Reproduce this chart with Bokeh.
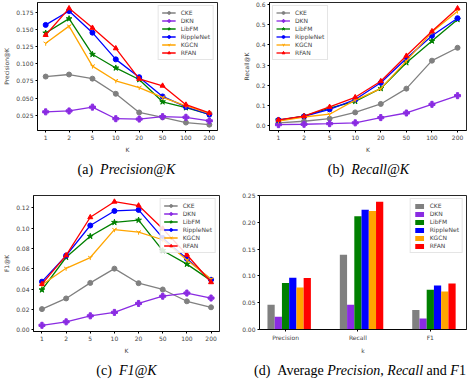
from bokeh.plotting import figure
from bokeh.models import Range1d, FixedTicker, NumeralTickFormatter, Div
from bokeh.layouts import column, row
from bokeh.embed import file_html
from bokeh.resources import INLINE

# ---------------- data ----------------
k_labels = ["1", "2", "5", "10", "20", "50", "100", "200"]
models = ["CKE", "DKN", "LibFM", "RippleNet", "KGCN", "RFAN"]
colors = ["gray", "blueviolet", "green", "blue", "orange", "red"]
markers = ["circle", "plus", "star", "circle", "y", "triangle"]

prec_cke = [0.0814, 0.0844, 0.0784, 0.0563, 0.0290, 0.0220, 0.0143, 0.0112]
prec_dkn = [0.0299, 0.0312, 0.0368, 0.0199, 0.0194, 0.0229, 0.0220, 0.0168]
prec_libfm = [0.1450, 0.1659, 0.1139, 0.0940, 0.0771, 0.0446, 0.0360, 0.0264]
prec_ripple = [0.1568, 0.1770, 0.1455, 0.1065, 0.0805, 0.0524, 0.0372, 0.0264]
prec_kgcn = [0.1300, 0.1550, 0.0966, 0.0753, 0.0654, 0.0510, 0.0385, 0.0277]
prec_rfan = [0.1420, 0.1810, 0.1525, 0.1226, 0.0780, 0.0680, 0.0403, 0.0284]

rec_cke = [0.013, 0.021, 0.034, 0.065, 0.107, 0.183, 0.322, 0.386]
rec_dkn = [0.004, 0.006, 0.009, 0.013, 0.039, 0.062, 0.105, 0.148]
rec_libfm = [0.027, 0.046, 0.086, 0.120, 0.184, 0.312, 0.420, 0.527]
rec_ripple = [0.027, 0.045, 0.080, 0.129, 0.212, 0.333, 0.446, 0.533]
rec_kgcn = [0.022, 0.042, 0.056, 0.126, 0.183, 0.321, 0.464, 0.568]
rec_rfan = [0.028, 0.046, 0.092, 0.140, 0.220, 0.346, 0.468, 0.582]

f1_cke = [0.0203, 0.0308, 0.0461, 0.0601, 0.0458, 0.0396, 0.0280, 0.0221]
f1_dkn = [0.0044, 0.0078, 0.0137, 0.0171, 0.0259, 0.0330, 0.0361, 0.0312]
f1_libfm = [0.0393, 0.0713, 0.0919, 0.1056, 0.1078, 0.0779, 0.0645, 0.0483]
f1_ripple = [0.0473, 0.0729, 0.1025, 0.1168, 0.1178, 0.0903, 0.0698, 0.0492]
f1_kgcn = [0.0442, 0.0604, 0.0710, 0.0984, 0.0959, 0.0885, 0.0685, 0.0498]
f1_rfan = [0.0449, 0.0732, 0.1106, 0.1259, 0.1221, 0.0994, 0.0738, 0.0467]

avg_groups = ["Precision", "Recall", "F1"]
avg_cke = [0.0463, 0.1394, 0.0363]
avg_dkn = [0.0240, 0.0463, 0.0205]
avg_libfm = [0.0867, 0.2114, 0.0744]
avg_ripple = [0.0966, 0.2237, 0.0820]
avg_kgcn = [0.0785, 0.2213, 0.0708]
avg_rfan = [0.0960, 0.2383, 0.0861]

prec_ticks = [0.025, 0.050, 0.075, 0.100, 0.125, 0.150, 0.175]
rec_ticks = [0.0, 0.1, 0.2, 0.3, 0.4, 0.5, 0.6]
f1_ticks = [0.00, 0.02, 0.04, 0.06, 0.08, 0.10, 0.12]
avg_ticks = [0.00, 0.05, 0.10, 0.15, 0.20, 0.25]

TICK_FONT = "DejaVu Sans"
CELL_W = 229


def style_axes(p):
    p.xgrid.visible = False
    p.ygrid.visible = False
    p.outline_line_color = "black"
    p.outline_line_alpha = 0.85
    for ax in (p.xaxis, p.yaxis):
        ax.axis_line_color = "black"
        ax.axis_line_alpha = 0.85
        ax.major_tick_line_color = "black"
        ax.major_tick_out = 2
        ax.major_tick_in = 0
        ax.minor_tick_out = 0
        ax.minor_tick_in = 0
        ax.major_label_text_font = TICK_FONT
        ax.major_label_text_font_size = "6px"
        ax.major_label_standoff = 2
        ax.axis_label_text_font = TICK_FONT
        ax.axis_label_text_font_size = "6px"
        ax.axis_label_text_font_style = "normal"
        ax.axis_label_standoff = 3


def style_legend(p, loc, gw=14, gh=7):
    lg = p.legend[0]
    lg.location = loc
    lg.label_text_font = TICK_FONT
    lg.label_text_font_size = "6px"
    lg.label_height = 7
    lg.glyph_height = gh
    lg.glyph_width = gw
    lg.spacing = 1
    lg.padding = 3
    lg.margin = 3
    lg.label_standoff = 5
    lg.border_line_color = "#cccccc"
    lg.background_fill_alpha = 0.85


def line_fig(series, yr, ticks, fmt, ylabel, loc, h, top, left, right):
    p = figure(width=CELL_W, height=h, x_range=Range1d(-0.35, 7.35),
               y_range=Range1d(*yr), output_backend="svg",
               toolbar_location=None, min_border_top=top,
               min_border_left=left, min_border_right=right,
               min_border_bottom=4)
    xs = list(range(len(k_labels)))
    for name, vals, c, m in zip(models, series, colors, markers):
        p.line(xs, vals, line_color=c, line_width=1.3, legend_label=name)
        sz = 6 if m in ("plus", "star") else 5
        p.scatter(xs, vals, marker=m, size=sz, fill_color=c, line_color=c,
                  legend_label=name)
    style_axes(p)
    p.xaxis.ticker = FixedTicker(ticks=xs)
    p.xaxis.major_label_overrides = {i: lab for i, lab in enumerate(k_labels)}
    p.xaxis.axis_label = "K"
    p.yaxis.ticker = FixedTicker(ticks=ticks)
    p.yaxis.formatter = NumeralTickFormatter(format=fmt)
    p.yaxis.axis_label = ylabel
    style_legend(p, loc)
    return p


def caption(html, align="center", pad=0):
    return Div(text=html, width=CELL_W, height=20,
               styles={"font-family": "Liberation Serif", "font-size": "14px",
                       "text-align": align, "white-space": "nowrap",
                       "overflow": "hidden", "padding-left": f"{pad}px"})


pa = line_fig([prec_cke, prec_dkn, prec_libfm, prec_ripple, prec_kgcn, prec_rfan],
              (0.0027, 0.1895), prec_ticks, "0.000", "Precision@K", "top_right",
              155, 2, 20, 12)
pb = line_fig([rec_cke, rec_dkn, rec_libfm, rec_ripple, rec_kgcn, rec_rfan],
              (-0.025, 0.611), rec_ticks, "0.0", "Recall@K", "top_left",
              155, 2, 20, 2)
pc = line_fig([f1_cke, f1_dkn, f1_libfm, f1_ripple, f1_kgcn, f1_rfan],
              (-0.0017, 0.1320), f1_ticks, "0.00", "F1@K", "top_right",
              171, 10, 20, 10)

# ---- bar chart (d) ----
pd_ = figure(width=CELL_W, height=171, x_range=Range1d(-0.36, 2.5),
             y_range=Range1d(0, 0.2502), output_backend="svg",
             toolbar_location=None, min_border_top=10, min_border_left=20,
             min_border_right=2, min_border_bottom=4)
gx = list(range(len(avg_groups)))
for i, (name, vals, c) in enumerate(zip(models,
                                        [avg_cke, avg_dkn, avg_libfm, avg_ripple, avg_kgcn, avg_rfan],
                                        colors)):
    pd_.vbar(x=[g + (i - 2) * 0.1 for g in gx], top=vals, width=0.1,
             fill_color=c, line_color=None, legend_label=name)
style_axes(pd_)
pd_.xaxis.ticker = FixedTicker(ticks=gx)
pd_.xaxis.major_label_overrides = {i: lab for i, lab in enumerate(avg_groups)}
pd_.xaxis.axis_label = "k"
pd_.yaxis.ticker = FixedTicker(ticks=avg_ticks)
pd_.yaxis.formatter = NumeralTickFormatter(format="0.00")
style_legend(pd_, "top_right", gw=11, gh=6)

ca = caption("(a)&nbsp;&nbsp;<i>Precision@K</i>", pad=14)
cb = caption("(b)&nbsp;&nbsp;<i>Recall@K</i>", pad=20)
cc = caption("(c)&nbsp;&nbsp;<i>F1@K</i>", pad=14)
cd = caption("(d)&nbsp;&nbsp;Average <i>Precision</i>, <i>Recall</i> and <i>F</i>1",
             align="left", pad=10)

layout = column(row(column(pa, ca), column(pb, cb)),
                row(column(pc, cc), column(pd_, cd)))

open("out.html", "w").write(file_html(layout, INLINE))
